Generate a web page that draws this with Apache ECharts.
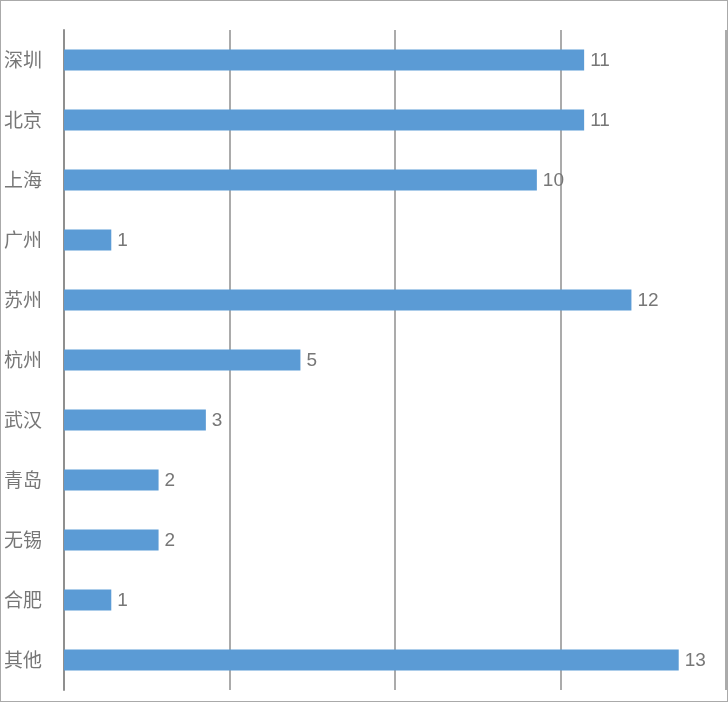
<!DOCTYPE html>
<html>
<head>
<meta charset="utf-8">
<script src="https://cdn.jsdelivr.net/npm/echarts@6/dist/echarts.min.js"></script>
<style>
  html, body { margin: 0; padding: 0; background: #fff; }
  #chart { width: 728px; height: 702px; box-sizing: border-box; border: 1px solid #aaa; }
</style>
</head>
<body>
<div id="chart"></div>
<script>
const cities = ['深圳', '北京', '上海', '广州', '苏州', '杭州', '武汉', '青岛', '无锡', '合肥', '其他']
const counts = [11, 11, 10, 1, 12, 5, 3, 2, 2, 1, 13]

const chart = echarts.init(document.getElementById('chart'))
chart.setOption({
  animation: false,
  textStyle: { fontFamily: 'Noto Sans CJK SC' },
  grid: { left: 62, right: 1, top: 29, bottom: 11 },
  xAxis: {
    type: 'value',
    min: 0,
    max: 14,
    interval: 3.5,
    axisLabel: { show: false },
    axisLine: { show: false },
    axisTick: { show: false },
    splitLine: { lineStyle: { color: '#8f8f8f', width: 1.5 } }
  },
  yAxis: {
    type: 'category',
    inverse: true,
    data: cities,
    axisLine: { lineStyle: { color: '#8f8f8f', width: 2 } },
    axisTick: { show: false },
    axisLabel: { color: '#777', fontSize: 19, margin: 22 }
  },
  series: [{
    type: 'bar',
    data: counts,
    barWidth: 21,
    itemStyle: { color: '#5b9bd5' },
    label: { show: true, position: 'right', distance: 6, color: '#777', fontSize: 19, fontFamily: 'Liberation Sans', offset: [0, 1] }
  }]
})
</script>
</body>
</html>
